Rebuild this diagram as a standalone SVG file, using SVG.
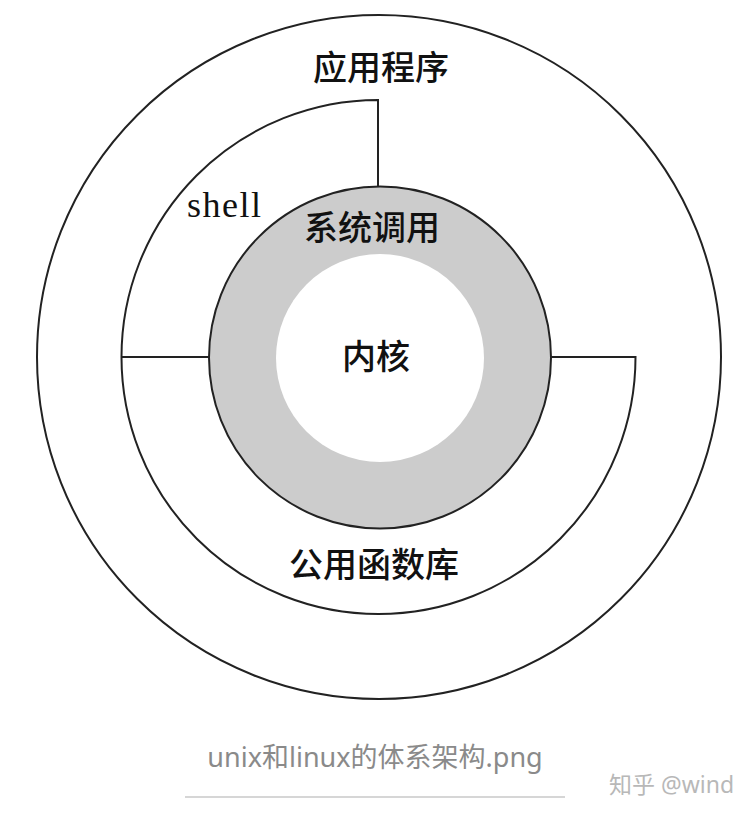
<svg xmlns="http://www.w3.org/2000/svg" width="752" height="816" viewBox="0 0 752 816">
<style>
.ln{fill:none;stroke:#222;stroke-width:2}
.lbl{font-family:"Noto Sans CJK SC",sans-serif;font-size:34px;font-weight:500;fill:#111;text-anchor:middle}
.en{font-family:"Liberation Serif",serif;font-size:36px;fill:#111;letter-spacing:1.5px}
.cap{font-family:"Noto Sans","Noto Sans CJK SC",sans-serif;font-size:27px;fill:#8a8a8a;text-anchor:middle}
.wm{font-family:"Noto Sans","Noto Sans CJK SC",sans-serif;font-size:23px;fill:#b8b8b8}
</style>
<rect width="752" height="816" fill="#ffffff"/>
<g id="app">
<circle class="ln" cx="379" cy="357" r="342"/>
<text class="lbl" x="381" y="80">应用程序</text>
</g>
<g id="shell">
<text class="en" x="187" y="217">shell</text>
</g>
<g id="library">
<text class="lbl" x="374" y="577">公用函数库</text>
</g>
<g id="syscall">
<circle cx="380" cy="357.5" r="171" fill="#cccccc" stroke="#222" stroke-width="2"/>
<text class="lbl" x="372" y="240">系统调用</text>
</g>
<g id="kernel">
<circle cx="380" cy="358" r="104" fill="#ffffff"/>
<text class="lbl" x="376" y="369">内核</text>
</g>
<g id="connectors">
<path class="ln" d="M121.5 357 A257 257 0 0 1 378 100 L378 187"/>
<path class="ln" d="M209 357 L121.5 357"/>
<path class="ln" d="M551 357 L635.5 357 A257 257 0 1 1 121.5 357"/>
</g>
<g id="caption">
<text class="cap" x="375" y="767">unix和linux的体系架构.png</text>
<line x1="185" y1="797" x2="565" y2="797" stroke="#d6d6d6" stroke-width="2"/>
<text class="wm" x="609" y="793">知乎 @wind</text>
</g>
</svg>
